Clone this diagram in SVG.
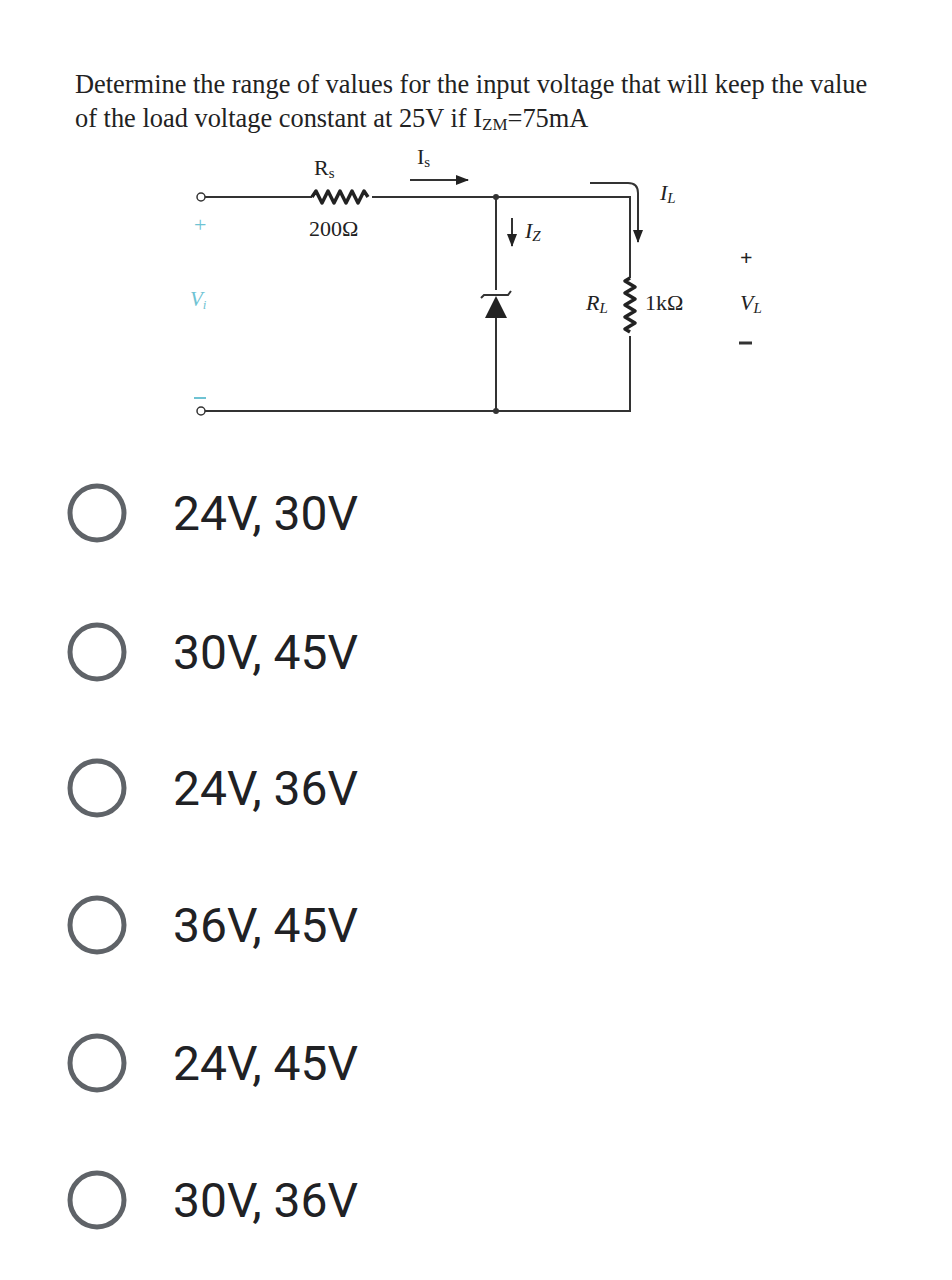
<svg xmlns="http://www.w3.org/2000/svg" width="952" height="1280" viewBox="0 0 952 1280">
<style>
.t{font-family:"Liberation Serif",serif;font-size:26.4px;fill:#222}
.w{fill:none;stroke:#333;stroke-width:2}
.z{fill:none;stroke:#222;stroke-width:3.5;stroke-linejoin:round}
.c{font-family:"Liberation Serif",serif;font-size:22px;fill:#222}
.b{fill:#6fc3d3;font-family:"Liberation Serif",serif}
.o{fill:none;stroke:#5f6368;stroke-width:5}
.a{font-family:Roboto,"Liberation Sans",sans-serif;font-size:48px;fill:#202124}
</style>
<defs><marker id="ar" markerWidth="13" markerHeight="10" refX="12" refY="5" orient="auto" markerUnits="userSpaceOnUse"><path d="M0,0L13,5L0,10z" fill="#222"/></marker></defs>
<rect width="952" height="1280" fill="#fff"/>
<text class="t" x="75" y="93">Determine the range of values for the input voltage that will keep the value</text>
<text class="t" x="75" y="127">of the load voltage constant at 25V if I<tspan font-size="17" dy="3">ZM</tspan><tspan dy="-3">=75mA</tspan></text>
<g id="circuit">
<g id="connectors">
<path class="w" d="M205,197H312M372,197H630V278M630,336V411H205M496,197V290M496,318V411"/>
<path class="z" d="M312,197l4,-6l6,12l6,-12l6,12l6,-12l6,12l6,-12l6,12l6,-12l4,6"/>
<path class="z" d="M630,278l-5,3l10,6l-10,6l10,6l-10,6l10,6l-10,6l10,6l-10,6l5,3"/>
<path d="M496,296L485,318H507Z" fill="#222"/>
<path class="w" stroke-width="2.5" d="M481,298l3,-3h24l3,-4"/>
<circle cx="496" cy="197" r="3" fill="#333"/><circle cx="496" cy="411" r="3" fill="#333"/>
<circle cx="201" cy="197" r="4" fill="#fff" stroke="#333" stroke-width="1.5"/>
<circle cx="201" cy="411" r="4" fill="#fff" stroke="#333" stroke-width="1.5"/>
<path class="w" stroke-width="3" d="M410,180H468" marker-end="url(#ar)"/>
<path class="w" stroke-width="3" d="M512,218V246" marker-end="url(#ar)"/>
<path class="w" stroke-width="3" d="M590,183H628Q638,183 638,193V242" marker-end="url(#ar)"/>
</g>
<text class="c" x="314" y="175">R<tspan font-size="15" dy="3">s</tspan></text>
<text class="c" x="417" y="164">I<tspan font-size="15" dy="3">s</tspan></text>
<text class="c" x="309" y="236">200Ω</text>
<text class="c" x="525" y="238" font-style="italic">I<tspan font-size="15" dy="3">Z</tspan></text>
<text class="c" x="660" y="200" font-style="italic">I<tspan font-size="15" dy="3">L</tspan></text>
<text class="c" x="586" y="310" font-style="italic">R<tspan font-size="15" dy="3">L</tspan></text>
<text class="c" x="645" y="310">1kΩ</text>
<text class="c" x="740" y="310" font-style="italic">V<tspan font-size="15" dy="3">L</tspan></text>
<text class="c" x="740" y="265" font-family="Liberation Sans" font-weight="bold">+</text>
<path d="M739,343H752" stroke="#333" stroke-width="3"/>
<text class="b" x="194" y="232" font-size="22">+</text>
<text class="b" x="190" y="306" font-size="21" font-style="italic">V<tspan font-size="13" dy="3">i</tspan></text>
<path d="M194,398H206" stroke="#6fc3d3" stroke-width="2"/>
</g>
<g id="options">
<circle class="o" cx="97" cy="513" r="27"/><text class="a" x="173" y="530">24V, 30V</text>
<circle class="o" cx="97" cy="652" r="27"/><text class="a" x="173" y="669">30V, 45V</text>
<circle class="o" cx="97" cy="788" r="27"/><text class="a" x="173" y="805">24V, 36V</text>
<circle class="o" cx="97" cy="925" r="27"/><text class="a" x="173" y="942">36V, 45V</text>
<circle class="o" cx="97" cy="1063" r="27"/><text class="a" x="173" y="1080">24V, 45V</text>
<circle class="o" cx="97" cy="1200" r="27"/><text class="a" x="173" y="1217">30V, 36V</text>
</g>
</svg>
